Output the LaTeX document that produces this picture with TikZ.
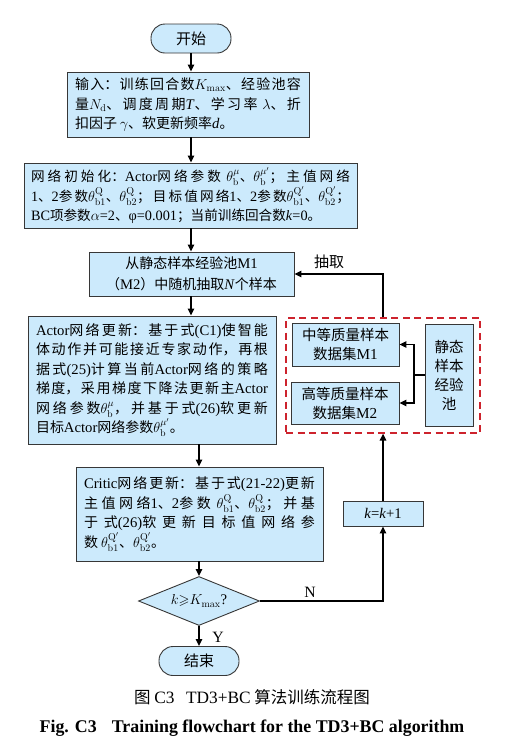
\documentclass[tikz,border=0pt]{standalone}
\usepackage{amsmath,amssymb}
\usepackage[no-math]{fontspec}
\setmainfont{Noto Sans CJK SC}
\newfontfamily\latf[Scale=1.05]{Liberation Serif}
\newcommand{\lat}[1]{{\latf #1}}
\XeTeXlinebreaklocale "zh"
\XeTeXlinebreakskip=0pt plus 2pt
\usetikzlibrary{arrows.meta,shapes.geometric}
\definecolor{boxfill}{RGB}{204,234,252}
\definecolor{boxedge}{RGB}{55,55,55}
\definecolor{dashred}{RGB}{205,35,45}
\tikzset{
  box/.style={draw=boxedge, fill=boxfill, line width=0.9pt, inner xsep=8pt, inner ysep=2pt,
    font=\fontsize{14}{19.5}\selectfont},
  tbox/.style={box, text width=#1, align=justify},
  term/.style={box, rounded corners=14pt, minimum width=80pt, minimum height=29pt, font=\fontsize{15}{17}\selectfont},
  arr/.style={line width=1.4pt, -{Triangle[length=7pt,width=6.5pt]}},
  lbl/.style={inner sep=0pt, font=\fontsize{15}{17}\selectfont},
}
\begin{document}
\begin{tikzpicture}[x=1pt,y=-1pt]
\useasboundingbox (0,0) rectangle (505,745);

\node[term] (start) at (191,38.5) {开始};

\node[tbox=226pt, minimum width=242pt, minimum height=65pt] (input) at (188,104.5)
 {输入：训练回合数$K_{\max}$、经验池容\linebreak 量$N_{\mathrm d}$、调度周期\lat{\textit{T}}、学习率 $\lambda$、折\linebreak 扣因子 $\gamma$、软更新频率\lat{\textit{d}}。};

\node[tbox=319pt, inner xsep=7pt, minimum width=333pt, minimum height=65pt, font=\fontsize{13.6}{19.5}\selectfont] (init) at (190.5,195.5)
 {网络初始化：\lat{Actor}网络参数 $\theta_{\mathrm b}^{\mu}$、$\theta_{\mathrm b}^{\mu'}$；主值网络\linebreak \lat{1}、\lat{2}参数$\theta_{\mathrm{b1}}^{\mathrm Q}$、$\theta_{\mathrm{b2}}^{\mathrm Q}$；目标值网络\lat{1}、\lat{2}参数$\theta_{\mathrm{b1}}^{\mathrm{Q}'}$、$\theta_{\mathrm{b2}}^{\mathrm{Q}'}$；\linebreak \lat{BC}项参数$\alpha$\lat{=2}、\lat{φ=0.001}；当前训练回合数\lat{\textit{k}=0}。};

\node[box, align=center, minimum width=205pt, minimum height=44pt, font=\fontsize{14}{21}\selectfont] (sample) at (191.5,274)
 {从静态样本经验池\lat{M1}\\（\lat{M2}）中随机抽取\lat{\textit{N}}个样本};

\node[tbox=232pt, minimum width=248pt, minimum height=128pt] (actor) at (152,380)
 {\lat{Actor}网络更新：基于式\lat{(C1)}使智能\linebreak 体动作并可能接近专家动作，再根\linebreak 据式\lat{(25)}计算当前\lat{Actor}网络的策略\linebreak 梯度，采用梯度下降法更新主\lat{Actor}\linebreak 网络参数$\theta_{\mathrm b}^{\mu}$，并基于式\lat{(26)}软更新\linebreak 目标\lat{Actor}网络参数$\theta_{\mathrm b}^{\mu'}$。};

\node[tbox=231pt, minimum width=247pt, minimum height=94pt] (critic) at (199.5,514)
 {\lat{Critic}网络更新：基于式\lat{(21-22)}更新\linebreak 主值网络\lat{1}、\lat{2}参数 $\theta_{\mathrm{b1}}^{\mathrm Q}$、$\theta_{\mathrm{b2}}^{\mathrm Q}$；并基\linebreak 于式\lat{(26)}软更新目标值网络参\linebreak 数 $\theta_{\mathrm{b1}}^{\mathrm{Q}'}$、$\theta_{\mathrm{b2}}^{\mathrm{Q}'}$。};

\node[box, diamond, aspect=2.5, inner sep=0pt, minimum width=121pt, minimum height=49pt] (dia) at (199,601)
 {$k{\geqslant}K_{\max}$\lat{?}};

\node[term] (endn) at (199,661) {结束};

\node[draw=dashred, dashed, dash pattern=on 7pt off 4.5pt, line width=1.3pt, minimum width=194pt, minimum height=115pt, inner sep=0pt] (pooldash) at (383,375.5) {};

\node[box, align=center, minimum width=107pt, minimum height=43pt, font=\fontsize{14.5}{19}\selectfont] (m1) at (345.5,344.5)
 {中等质量样本\\数据集\lat{M1}};
\node[box, align=center, minimum width=108pt, minimum height=42pt, font=\fontsize{14.5}{19}\selectfont] (m2) at (345,403)
 {高等质量样本\\数据集\lat{M2}};
\node[box, align=center, inner xsep=2pt, minimum width=48pt, minimum height=102pt, font=\fontsize{14.5}{19}\selectfont] (pool) at (449,375)
 {静态\\样本\\经验\\池};

\node[box, minimum width=80pt, minimum height=25pt, font=\fontsize{14}{17}\selectfont] (kk) at (383,513.5)
 {\lat{\textit{k}=\textit{k}+1}};

\coordinate (fork) at (414,375);

\node[lbl] (lqu) at (329,262) {抽取};
\node[lbl] (lN) at (310,592) {\lat{N}};
\node[lbl] (lY) at (218,637) {\lat{Y}};

\draw[arr] (start.south) -- (input.north -| start.south);
\draw[arr] (input.south -| start) -- (init.north -| start);
\draw[arr] (init.south -| start) -- (sample.north -| start);
\draw[arr] (sample.south -| start) -- (actor.north -| start);
\draw[arr] (actor.south -| dia) -- (critic.north -| dia);
\draw[arr] (critic.south -| dia) -- (dia.north);
\draw[arr] (dia.south) -- (endn.north);
\draw[arr] (dia.east) -| (kk.south);
\draw[arr] (kk.north) -- (kk.north |- pooldash.south);
\draw[arr] (pooldash.north) |- (sample.east);
\draw[line width=1.3pt] (pool.west) -- (fork);
\draw[arr, line width=1.3pt] (fork) |- (m1.east);
\draw[arr, line width=1.3pt] (fork) |- (m2.east);

\node[inner sep=0pt, font=\fontsize{16.5}{19}\selectfont] (cap1) at (252,697)
 {图 \lat{C3}\hspace{0.7em}\lat{TD3+BC} 算法训练流程图};
\node[inner sep=0pt, font=\fontsize{17}{20}\selectfont] (cap2) at (252,728)
 {\latf\bfseries Fig. C3\hspace{0.6em} Training flowchart for the TD3+BC algorithm};
\end{tikzpicture}
\end{document}
